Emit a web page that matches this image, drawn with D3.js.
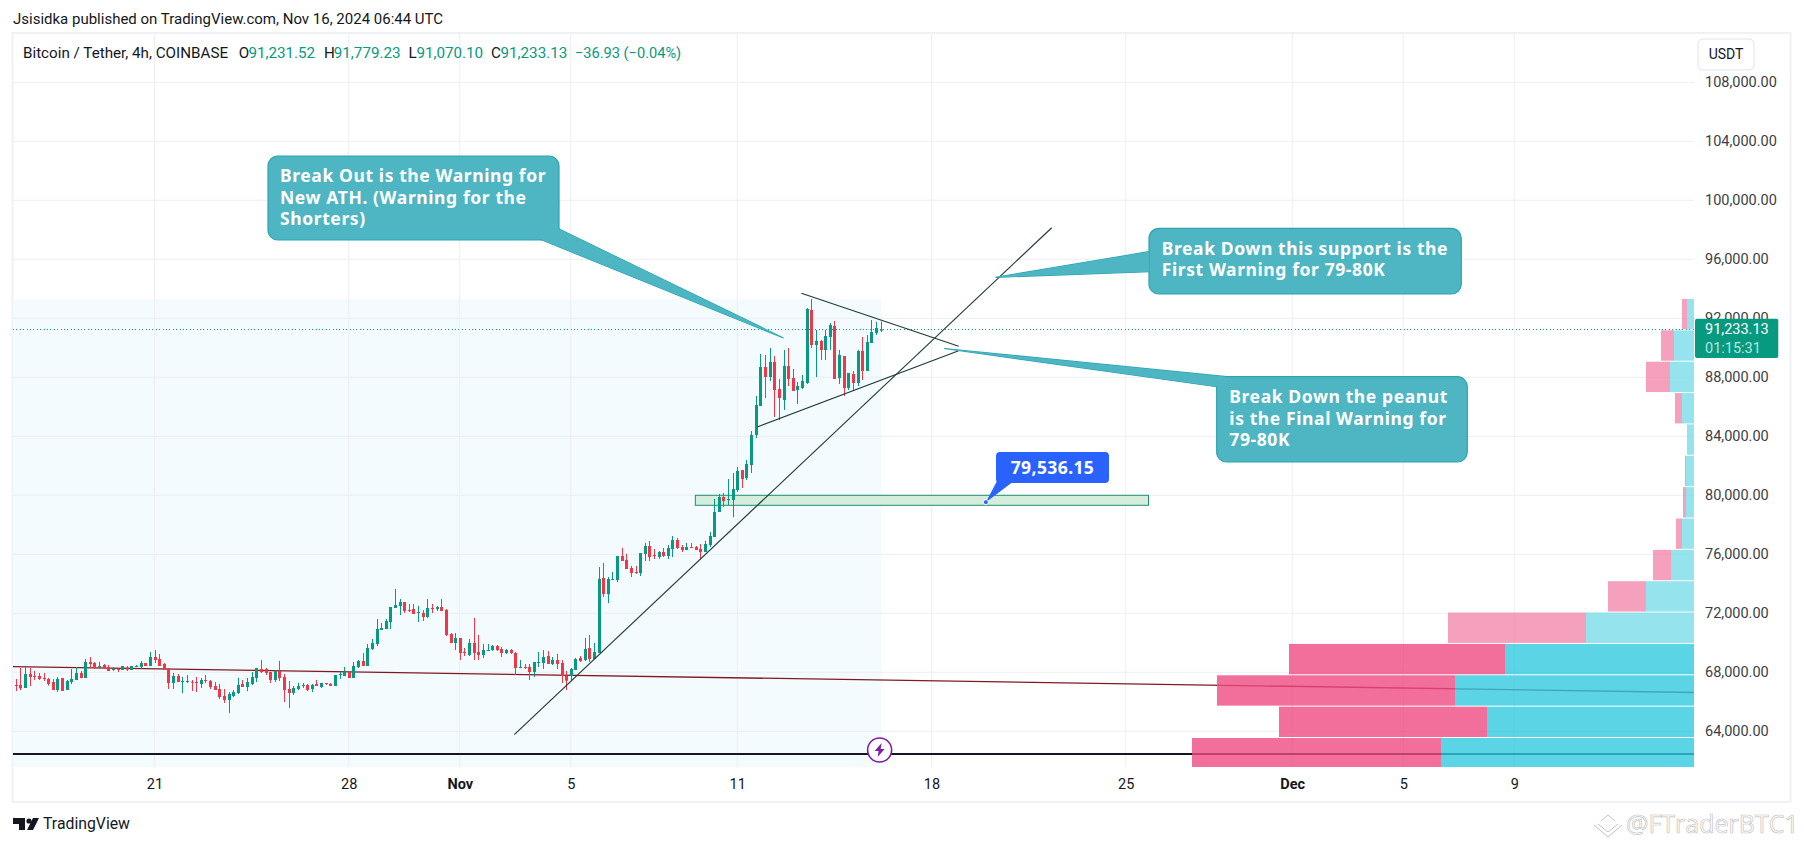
<!DOCTYPE html>
<html>
<head>
<meta charset="utf-8">
<script src="https://cdn.jsdelivr.net/npm/d3@7"></script>
<style>
body { margin: 0; background: #fff; }
svg { display: block; }
text { font-family: Roboto, sans-serif; }
.axis path, .axis line { display: none; }
.axis text { font-size: 14.5px; fill: #3b3e47; font-family: Roboto, sans-serif; }
.callout text { font-family: "Noto Sans", sans-serif; font-weight: 700; font-size: 17.5px; letter-spacing: .6px; fill: #fff; }
</style>
</head>
<body>
<div id="chart"></div>
<script>
// 4h candles, first bar Oct 16 2024 00:00 UTC
var opens = [
67139,67139,66936,67885,67749,67749,67614,67546,67342,66800,
67614,66800,67342,67478,67953,67614,68698,68631,68359,68495,
68359,68156,68224,68156,68337,68156,68359,68359,68631,68427,
69037,68902,68563,68292,67275,67749,67365,67342,67365,67342,
67207,67478,67410,67071,66868,66393,66122,66393,66597,67207,
67003,67207,67614,68224,68224,68020,67478,68088,67681,66868,
66597,66868,67094,67139,66868,67207,67003,67275,67207,67071,
67840,67749,68020,67614,68359,68766,68427,69580,69919,70868,
70936,71410,72360,72495,72766,72224,72292,72043,72021,71749,
72360,72292,72427,72224,70597,69987,70326,69376,69173,69986,
69375,69172,69466,69511,69782,69579,69308,69511,69308,68291,
68358,68358,68019,68630,68630,69104,68562,68833,68630,67748,
67748,68155,68969,68833,69647,68901,69308,74393,73308,74280,
74257,75884,75613,75071,74799,74732,76020,76562,75952,75816,
76155,75884,76359,76969,76494,76291,76494,76494,76359,76155,
76630,77172,78867,79884,79704,79681,80359,81715,81173,82054,
84088,86054,88698,88020,89037,87207,86461,88766,87953,87139,
87275,87614,92563,90190,90461,89851,90732,91478,87953,89444,
87275,88224,87614,89783,88427,90326,91004,91231.52];
var highs = [
67546,68292,68382,68292,68088,67953,67953,67614,67546,67681,
67614,67478,68224,68359,68088,68902,69037,68698,68698,68563,
68495,68359,68292,68427,68427,68427,68495,68766,68631,69376,
69512,69241,68631,68292,67953,67885,67681,67817,67478,67681,
67614,67817,67478,67342,67207,66868,66664,66800,67614,67478,
67614,68020,68292,68834,68292,68020,68156,68766,67885,67410,
67071,67275,67275,67207,67207,67478,67275,67275,67275,67817,
68020,68359,68088,68698,68834,69309,69919,70258,71614,71343,
71614,72427,73648,72970,72766,72631,72631,72495,72224,72970,
72631,72495,72970,72292,70665,70665,70326,69648,70258,71681,
70528,69918,69918,69850,69850,69714,69579,69579,69375,68833,
68562,68562,68697,69375,69511,69443,69036,69240,68833,68087,
68291,68969,69104,70325,70528,69986,75138,75410,74460,74799,
75884,76427,76020,75206,75206,76088,76766,76901,76359,76223,
76427,76630,77240,77105,76630,76766,76766,76562,76698,76901,
77511,79749,80088,80156,81105,81512,81918,81715,82393,84359,
86732,89580,89512,89987,89444,87885,89851,89987,88563,87681,
88156,92699,93309,91207,90529,91207,91682,91817,89851,89444,
88292,88427,89851,90732,90868,91885,91749,91779.23];
var lows = [
66732,66800,66936,67071,67478,67478,67410,67094,66800,66664,
66732,66800,67207,67478,67614,67614,68292,68224,68224,68224,
68088,68088,68020,68156,68088,68156,68359,68224,68427,68427,
68631,68427,68156,66868,66868,67342,66597,67275,66732,66664,
66936,67275,66868,66800,66190,65919,65241,66325,66529,67003,
66732,67139,67342,67953,67817,67275,67342,67410,65986,65580,
66461,66800,66936,66732,66664,67071,66936,67139,67071,67071,
67546,67749,67614,67614,68292,68427,68427,69512,69783,70868,
70936,70936,72360,71885,72021,72088,71953,71410,71478,71682,
72021,72156,72156,70461,69987,69512,68834,69105,69105,68833,
68833,68969,69443,69443,69443,69036,69240,69240,67816,68291,
68223,67477,67680,68358,68223,68562,68494,68223,67274,66799,
67477,68155,68697,68765,68697,68901,69308,73104,72698,74257,
74121,75545,75003,74460,74664,74528,75545,75545,75681,75681,
75816,75681,75816,76359,76155,76291,76427,76291,75681,76155,
76494,77172,78867,79206,79342,78528,80223,80495,81037,81512,
83885,86054,86597,87749,85308,85105,85783,87410,87071,86190,
87207,87546,89987,88020,89173,89173,89851,87885,87546,86732,
87139,87139,87410,87817,88427,90326,90868,91070.10];
var closes = [
67094,66913,67885,67681,67704,67546,67568,67207,66800,67546,
66732,67410,67546,67953,67614,68698,68563,68292,68427,68292,
68088,68224,68156,68427,68179,68427,68427,68631,68427,69037,
68834,68427,68156,67275,67749,67342,67410,67410,67297,67297,
67478,67433,67003,66800,66325,66122,66529,66664,67139,67003,
67342,67681,68292,68020,67953,67478,68088,67614,66800,66597,
66936,67071,67139,66800,67139,67071,67275,67207,67071,67817,
67885,68020,67614,68427,68766,68427,69648,69987,70936,71004,
71478,72427,72563,72766,72156,72156,71953,72088,71749,72360,
72292,72427,72156,70529,69987,70326,69309,69309,69987,69308,
69172,69511,69511,69782,69511,69308,69511,69308,68291,68358,
68291,68019,68697,68697,69036,68562,68833,68562,67748,67432,
68223,68901,68765,69579,68901,69375,74325,73308,74325,74325,
75884,75545,75003,74732,74732,76088,76562,75816,75907,76155,
75884,76427,76969,76427,76291,76494,76449,76291,76155,76698,
77240,78867,79884,79613,79749,80427,81647,81105,82122,84088,
86122,88698,88020,89037,87139,86597,88766,87885,87071,87410,
87749,92631,90190,90461,89851,90800,91546,87885,89512,87275,
88292,87614,89783,88427,90393,91071,91343,91233.13];

// volume profile rows (top price of each row, arbitrary volume units)
var vpTop = [93310,91184,89058,86932,84806,82680,80554,78428,76302,74176,72050,69924,67798,65672,63546];
var vpStep = 2126;
var vpUp = [7,20,24,12,7,8,8,12,23,48,108,189,239,207,253];
var vpDown = [5,13,24,7,0,1,3,6,18,38,138,216,238,208,249];

var priceTicks = [64000,68000,72000,76000,80000,84000,88000,92000,96000,100000,104000,108000];
var dateTicks = ['2024-10-21','2024-10-28','2024-11-01','2024-11-05','2024-11-11','2024-11-18','2024-11-25','2024-12-01','2024-12-05','2024-12-09'];
var dateLabels = ['21','28','Nov','5','11','18','25','Dec','5','9'];

// drawings, [date, price] anchors
var supportLine = [['2024-11-02T23:11Z',63776],['2024-11-22T08:00Z',98142]];
var wedgeTop = [['2024-11-13T07:30Z',93695],['2024-11-18T23:30Z',90102]];
var wedgeBottom = [['2024-11-11T17:20Z',84630],['2024-11-18T23:30Z',89803]];
var maLine = [['2024-10-15T21:36Z',68380],['2024-12-15T11:30Z',66630]];
var blackLine = [['2024-10-15T21:36Z',62461],['2024-12-15T11:30Z',62461]];
var lastLine = [['2024-10-15T21:36Z',91233.13],['2024-12-15T11:30Z',91233.13]];
var zone = {from:'2024-11-09T11:45Z', to:'2024-11-25T19:40Z', top:80000, bottom:79322};
var notePrice = 79536.15;

var width = 1804, height = 846;
var plotL = 13, plotR = 1694, plotT = 33, plotB = 767;

var svg = d3.select('#chart').append('svg').attr('width',width).attr('height',height);

var x = d3.scaleUtc().domain([new Date('2024-10-21'),new Date('2024-12-09')]).range([154.5,1514.25]);
var y = d3.scaleLinear().domain([88000,84000]).range([377.3,436.3]);
var vpX = d3.scaleLinear().domain([0,100]).range([0,100]);

var firstBar = new Date('2024-10-16');
var bars = closes.map((c,i)=>({date:d3.utcHour.offset(firstBar,i*4),o:opens[i],h:highs[i],l:lows[i],c:c}));
var lastBar = bars[bars.length-1];

svg.append('defs').append('clipPath').attr('id','plotClip').append('rect')
    .attr('x',plotL).attr('y',plotT).attr('width',plotR-plotL).attr('height',plotB-plotT);

// frame
svg.append('rect').attr('x',12.5).attr('y',33).attr('width',1778).attr('height',769)
    .attr('fill','#fff').attr('stroke','#eff1f6').attr('stroke-width',2);

var plot = svg.append('g').attr('clip-path','url(#plotClip)');

// range background of the profile
plot.append('rect').attr('x',plotL).attr('y',y(vpTop[0]))
    .attr('width',x(lastBar.date)+1-plotL).attr('height',plotB-y(vpTop[0])).attr('fill','#f3fbfe');

// grid
plot.selectAll('.gridY').data(priceTicks).enter().append('line')
    .attr('x1',plotL).attr('x2',plotR).attr('y1',d=>y(d)).attr('y2',d=>y(d))
    .attr('stroke','#eceef2').attr('stroke-width',1);
plot.selectAll('.gridX').data(dateTicks).enter().append('line')
    .attr('x1',d=>x(new Date(d))).attr('x2',d=>x(new Date(d))).attr('y1',plotT).attr('y2',plotB)
    .attr('stroke','#eceef2').attr('stroke-width',1);

function anchorLine(a,color,w,dash) {
    return plot.append('line')
        .attr('x1',x(new Date(a[0][0]))).attr('y1',y(a[0][1]))
        .attr('x2',x(new Date(a[1][0]))).attr('y2',y(a[1][1]))
        .attr('stroke',color).attr('stroke-width',w).attr('stroke-dasharray',dash||null);
}

anchorLine(maLine,'#801922',1.3);
anchorLine(blackLine,'#131722',2);
anchorLine(lastLine,'#089981',1,'1 2.4').attr('shape-rendering','crispEdges');

// volume profile
var vpRows = vpTop.map((t,i)=>({top:t,up:vpUp[i],down:vpDown[i],dark:i>=11}));
var vp = plot.append('g');
vp.selectAll('.vpUp').data(vpRows).enter().append('rect')
    .attr('x',d=>plotR-vpX(d.up)).attr('width',d=>vpX(d.up))
    .attr('y',d=>y(d.top)).attr('height',d=>y(d.top-vpStep)-y(d.top)-1)
    .attr('fill',d=>d.dark?'rgba(50,201,222,.8)':'rgba(122,220,231,.8)');
vp.selectAll('.vpDown').data(vpRows).enter().append('rect')
    .attr('x',d=>plotR-vpX(d.up)-vpX(d.down)).attr('width',d=>vpX(d.down))
    .attr('y',d=>y(d.top)).attr('height',d=>y(d.top-vpStep)-y(d.top)-1)
    .attr('fill',d=>d.dark?'rgba(238,75,129,.8)':'rgba(242,136,171,.8)');

// green zone
plot.append('rect')
    .attr('x',x(new Date(zone.from))).attr('width',x(new Date(zone.to))-x(new Date(zone.from)))
    .attr('y',y(zone.top)).attr('height',y(zone.bottom)-y(zone.top))
    .attr('fill','#d5eddc').attr('stroke','#1e8f6e').attr('stroke-width',1);

// candles
var upColor = '#089981', downColor = '#f23645';
var candles = plot.append('g').selectAll('g').data(bars).enter().append('g');
candles.append('line')
    .attr('x1',d=>Math.round(x(d.date))+.5).attr('x2',d=>Math.round(x(d.date))+.5)
    .attr('y1',d=>y(d.h)).attr('y2',d=>y(d.l))
    .attr('stroke',d=>d.c>=d.o?upColor:downColor).attr('stroke-width',1);
candles.append('rect')
    .attr('x',d=>Math.round(x(d.date))-1).attr('width',3)
    .attr('y',d=>y(Math.max(d.o,d.c))).attr('height',d=>Math.max(1,Math.abs(y(d.o)-y(d.c))))
    .attr('fill',d=>d.c>=d.o?upColor:downColor);

// trend lines
anchorLine(supportLine,'#1f3d38',1.2);
anchorLine(wedgeTop,'#1f3d38',1.2);
anchorLine(wedgeBottom,'#1f3d38',1.2);

// lightning marker on the black line
var bolt = svg.append('g').attr('transform',`translate(${x(lastBar.date)-1},750)`);
bolt.append('circle').attr('r',12).attr('fill','#fff').attr('stroke','#7b1fa2').attr('stroke-width',1.6);
bolt.append('path').attr('d','M2,-7 L-5,1 L-1,1 L-2,7 L5,-1 L1,-1 Z').attr('fill','#7b1fa2');

// axes
svg.append('g').attr('class','axis').attr('transform','translate(1705,0)')
    .call(d3.axisRight(y).tickValues(priceTicks).tickSize(0).tickPadding(0).tickFormat(d3.format(',.2f')));
var xAxis = svg.append('g').attr('class','axis').attr('transform',`translate(0,${plotB})`)
    .call(d3.axisBottom(x).tickValues(dateTicks.map(d=>new Date(d))).tickSize(0).tickPadding(12).tickFormat((d,i)=>dateLabels[i]));
xAxis.selectAll('text').style('font-weight',(d,i)=>dateLabels[i]=='Nov'||dateLabels[i]=='Dec'?'700':null).style('fill','#131722');

// last price tag
var fmt = d3.format(',.2f');
var tagY = y(closes[closes.length-1]);
svg.append('rect').attr('x',1695).attr('y',318.7).attr('width',83.3).attr('height',39.3).attr('rx',2).attr('fill','#089981');
svg.append('text').attr('x',1705).attr('y',tagY+4.5).attr('font-size',14.5).attr('fill','#fff').text(fmt(lastBar.c));
svg.append('text').attr('x',1705).attr('y',tagY+23).attr('font-size',14.5).attr('fill','#b5e6dc').text('01:15:31');

// callouts
function callout(bx,by,bw,bh,pointer,lines,tx,baselines) {
    var g = svg.append('g').attr('class','callout');
    var pts = pointer.map(p=>p.join(',')).join(' ');
    g.append('polygon').attr('points',pts).attr('fill','#4db6c2').attr('stroke','#2aa3b2').attr('stroke-width',1.2);
    g.append('rect').attr('x',bx).attr('y',by).attr('width',bw).attr('height',bh).attr('rx',10)
        .attr('fill','#4db6c2').attr('stroke','#2aa3b2').attr('stroke-width',1.2);
    g.append('polygon').attr('points',pts).attr('fill','#4db6c2');
    lines.forEach((l,i)=>g.append('text').attr('x',tx).attr('y',baselines[i]).text(l));
}
callout(268,156,291,84,[[542,240],[783.5,338],[559,229]],
    ['Break Out is the Warning for','New ATH. (Warning for the','Shorters)'],280,[182,204,225]);
callout(1149,228.3,312.3,65.7,[[1149,251.7],[995.5,277.3],[1149,271.7]],
    ['Break Down this support is the','First Warning for 79-80K'],1161.7,[254.7,275.7]);
callout(1216.7,376.7,250.6,85.3,[[1226.7,376.7],[944,348.5],[1216.7,386.7]],
    ['Break Down the peanut','is the Final Warning for','79-80K'],1229.3,[403.3,424.7,446]);

// blue price note
var noteX = x(new Date('2024-11-19T23:00Z')), noteY = y(notePrice);
svg.append('polygon').attr('points',[[noteX,noteY],[997,481],[1014,481]].map(p=>p.join(',')).join(' ')).attr('fill','#2962ff');
svg.append('rect').attr('x',996).attr('y',452).attr('width',113).attr('height',31).attr('rx',4).attr('fill','#2962ff');
svg.append('text').attr('x',1052.5).attr('y',473.5).attr('text-anchor','middle').attr('font-size',17.5).attr('letter-spacing',.4)
    .attr('font-weight',700).attr('fill','#fff').style('font-family','"Noto Sans", sans-serif').text(fmt(notePrice));
svg.append('circle').attr('cx',noteX).attr('cy',noteY).attr('r',2.5).attr('fill','#2962ff').attr('stroke','#fff').attr('stroke-width',1);

// header
svg.append('text').attr('x',13).attr('y',24).attr('font-size',15).attr('fill','#131722')
    .text('Jsisidka published on TradingView.com, Nov 16, 2024 06:44 UTC');

// legend
var legend = svg.append('g').attr('font-size',15.2);
legend.append('text').attr('x',23).attr('y',58).attr('fill','#131722').text('Bitcoin / Tether, 4h, COINBASE');
var ohlcX = [[238.8,248.4,'O',lastBar.o],[324,333.8,'H',lastBar.h],[408.6,416.4,'L',lastBar.l],[491,500.5,'C',lastBar.c]];
ohlcX.forEach(d=>{
    legend.append('text').attr('x',d[0]).attr('y',58).attr('fill','#131722').text(d[2]);
    legend.append('text').attr('x',d[1]).attr('y',58).attr('fill','#089981').text(fmt(d[3]));
});
legend.append('text').attr('x',575).attr('y',58).attr('font-size',14.6).attr('fill','#089981').text('\u221236.93 (\u22120.04%)');

// currency button
svg.append('rect').attr('x',1698).attr('y',39).attr('width',56).attr('height',31).attr('rx',5)
    .attr('fill','#fff').attr('stroke','#e0e3eb');
svg.append('text').attr('x',1726).attr('y',59).attr('text-anchor','middle').attr('font-size',14).attr('fill','#131722').text('USDT');

// footer logo
svg.append('path').attr('d','M13,818 H25 V830 H19 V824 H13 Z M33,818 H39 L33,830 H27 Z').attr('fill','#131722');
svg.append('circle').attr('cx',29).attr('cy',821).attr('r',2.6).attr('fill','#131722');
svg.append('text').attr('x',43).attr('y',829).attr('font-size',15.8).attr('font-weight',400).attr('fill','#131722').text('TradingView');

// watermark
svg.append('text').attr('x',1626).attr('y',833).attr('font-size',25).attr('fill','#fff').attr('stroke','#c4c4c4')
    .attr('stroke-width',.7).style('font-family','Open Sans, sans-serif').text('@FTraderBTC1');
svg.append('path').attr('d','M1594,825 L1608,837 L1622,825 M1601,821 L1608,815 L1615,821 M1598,824 L1608,832 L1618,824')
    .attr('fill','none').attr('stroke','#c4c4c4').attr('stroke-width',1);
</script>
</body>
</html>
